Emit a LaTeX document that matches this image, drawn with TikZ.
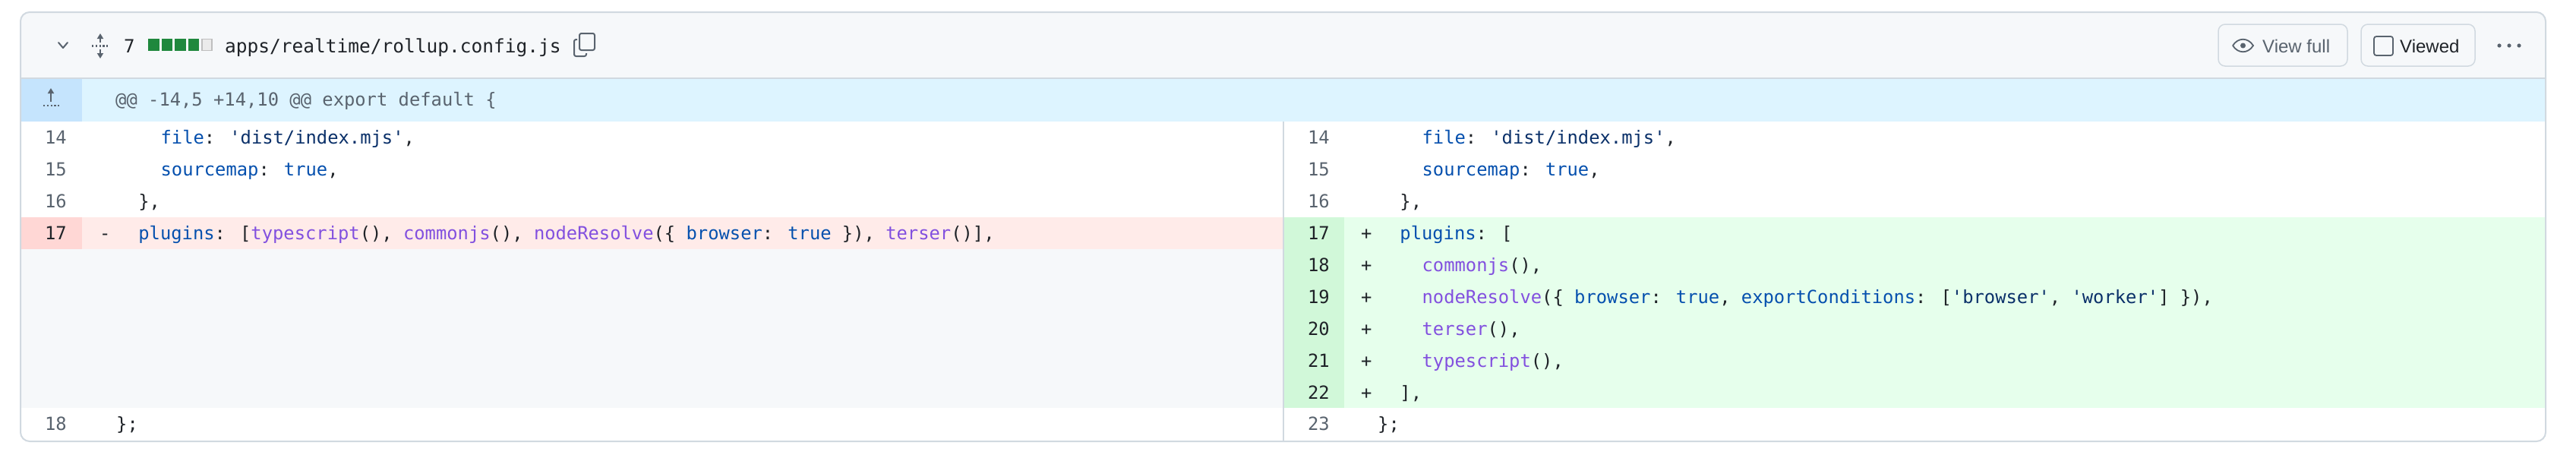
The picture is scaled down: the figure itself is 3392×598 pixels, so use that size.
\documentclass[tikz,border=0pt]{standalone}
\usepackage{fontspec}
\usetikzlibrary{arrows.meta}
\setmainfont{Liberation Sans}
\newfontfamily\codefont{DejaVu Sans Mono}
\definecolor{kw}{HTML}{0550AE}
\definecolor{str}{HTML}{0A3069}
\definecolor{fn}{HTML}{8250DF}
\definecolor{tx}{HTML}{1F2328}
\definecolor{ln}{HTML}{59636E}
\definecolor{bd}{HTML}{D1D9E0}
\definecolor{hdr}{HTML}{F6F8FA}
\definecolor{hunk}{HTML}{DDF4FF}
\definecolor{hunkg}{HTML}{C5E4FD}
\definecolor{delbg}{HTML}{FFEBE9}
\definecolor{delg}{HTML}{FFD7D5}
\definecolor{addbg}{HTML}{E6FFEC}
\definecolor{addg}{HTML}{D1F8D9}
\definecolor{gbar}{HTML}{1F883D}
\newcommand{\K}[1]{\textcolor{kw}{#1}}
\newcommand{\St}[1]{\textcolor{str}{#1}}
\newcommand{\F}[1]{\textcolor{fn}{#1}}
\begin{document}
\begin{tikzpicture}[x=1pt,y=-1pt,
  code/.style={anchor=base west,inner sep=0pt,font=\codefont\fontsize{23.8}{28}\selectfont,text=tx},
  lnum/.style={anchor=base east,inner sep=0pt,font=\codefont\fontsize{23.8}{28}\selectfont,text=ln},
  lnumd/.style={lnum,text=tx},
  btn/.style={draw=bd,line width=1.5pt,rounded corners=9pt,fill=hdr},
  ui/.style={anchor=base west,inner sep=0pt,font=\fontsize{24}{28}\selectfont,text=ln},
  tip/.style={-{Triangle[length=7pt,width=8pt]}}]
\useasboundingbox[fill=white] (0,0) rectangle (3392,598);
% box
\fill[hdr,rounded corners=12pt] (27,16) rectangle (3352,160);
\fill[hdr] (27,100) rectangle (3352,160);
\fill[hunk] (27,103) rectangle (3352,160);
\fill[hunkg] (27,103) rectangle (108,160);
\fill[white] (27,160) rectangle (3352,581);
\fill[delbg] (27,286) rectangle (1690,328);
\fill[delg] (27,286) rectangle (108,328);
\fill[hdr] (27,328) rectangle (1690,537);
\fill[addbg] (1690,286) rectangle (3352,537);
\fill[addg] (1690,286) rectangle (1770,537);
\draw[bd,line width=1.5pt] (27,103) -- (3352,103);
\draw[bd,line width=1.5pt] (1690,160) -- (1690,581);
\draw[bd,line width=2pt,rounded corners=12pt] (27,581) -- (27,16) -- (3352,16) -- (3352,581) -- cycle;
% header left
\draw[ln,line width=2pt,line cap=round,line join=round] (77,56) -- (83,63) -- (89,56);
\coordinate (ea) at (132,44); \coordinate (eb) at (132,77);
\draw[ln,line width=1.8pt,tip] (132,56) -- (ea);
\draw[ln,line width=1.8pt,tip] (132,65) -- (eb);
\draw[ln,line width=2.2pt,dash pattern=on 2.2pt off 2.6pt] (121,60.5) -- (144,60.5);
\node[ui,text=tx,font=\codefont\fontsize{24}{28}\selectfont] (cnt) at (163,69) {7};
\foreach \i in {0,1,2,3} \fill[gbar] (195+\i*17.5,51) rectangle (209.5+\i*17.5,67);
\draw[black!25,fill=black!8,line width=1.2pt] (266,51.6) rectangle (279,66.4);
\node[code,font=\codefont\fontsize{24.5}{28}\selectfont] (fname) at (296,69) {apps/realtime/rollup.config.js};
\draw[ln,line width=2pt,rounded corners=2.5pt] (760,52) -- (756,52) -- (756,74) -- (772,74) -- (772,70);
\draw[ln,line width=2pt,rounded corners=2.5pt] (763,44) rectangle (783,66);
% header right
\draw[btn] (2921,32) rectangle (3091,87);
\draw[ln,line width=1.8pt] (2940,60) .. controls (2947,49) and (2960,49) .. (2967,60) .. controls (2960,71) and (2947,71) .. (2940,60);
\fill[ln] (2953.5,60) circle (3.5pt);
\node[ui] (vf) at (2979,69) {View full};
\draw[btn] (3109,32) rectangle (3259,87);
\draw[ln,line width=1.8pt,rounded corners=3pt] (3126,48) rectangle (3151,73);
\node[ui,text=tx] (vw) at (3160,69) {Viewed};
\foreach \i in {0,1,2} \fill[ln] (3291+\i*13,60) circle (2.6pt);
% hunk
\coordinate (ha) at (67,116);
\draw[ln,line width=1.8pt,tip] (67,134) -- (ha);
\draw[ln,line width=2.2pt,dash pattern=on 2.2pt off 2.6pt] (57,139) -- (78,139);
\node[code,text=ln] (hk) at (152,139) {@@ -14,5 +14,10 @@ export default \{};
% left side
\def\cw{14.6}
\node[lnum] (l14) at (88,189) {14};
\node[lnum] (l15) at (88,231) {15};
\node[lnum] (l16) at (88,273) {16};
\node[lnumd] (l17) at (88,315) {17};
\node[lnum] (l18) at (88,566) {18};
\node[code] (d17m) at (131,315) {-};
\node[code] (c14) at (153+4*\cw,189) {\K{file}: \St{'dist/index.mjs'},};
\node[code] (c15) at (153+4*\cw,231) {\K{sourcemap}: \K{true},};
\node[code] (c16) at (153+2*\cw,273) {\},};
\node[code] (c17) at (153+2*\cw,315) {\K{plugins}: [\F{typescript}(), \F{commonjs}(), \F{nodeResolve}(\{ \K{browser}: \K{true} \}), \F{terser}()],};
\node[code] (c18) at (153,566) {\};};
% right side
\node[lnum] (r14) at (1751,189) {14};
\node[lnum] (r15) at (1751,231) {15};
\node[lnum] (r16) at (1751,273) {16};
\foreach \n/\y in {17/315,18/357,19/399,20/441,21/483,22/525}{
  \node[lnumd] (r\n) at (1751,\y) {\n};
  \node[code] (p\n) at (1792,\y) {+};
}
\node[lnum] (r23) at (1751,566) {23};
\node[code] (e14) at (1814+4*\cw,189) {\K{file}: \St{'dist/index.mjs'},};
\node[code] (e15) at (1814+4*\cw,231) {\K{sourcemap}: \K{true},};
\node[code] (e16) at (1814+2*\cw,273) {\},};
\node[code] (e17) at (1814+2*\cw,315) {\K{plugins}: [};
\node[code] (e18) at (1814+4*\cw,357) {\F{commonjs}(),};
\node[code] (e19) at (1814+4*\cw,399) {\F{nodeResolve}(\{ \K{browser}: \K{true}, \K{exportConditions}: [\St{'browser'}, \St{'worker'}] \}),};
\node[code] (e20) at (1814+4*\cw,441) {\F{terser}(),};
\node[code] (e21) at (1814+4*\cw,483) {\F{typescript}(),};
\node[code] (e22) at (1814+2*\cw,525) {],};
\node[code] (e23) at (1814,566) {\};};
\end{tikzpicture}
\end{document}
